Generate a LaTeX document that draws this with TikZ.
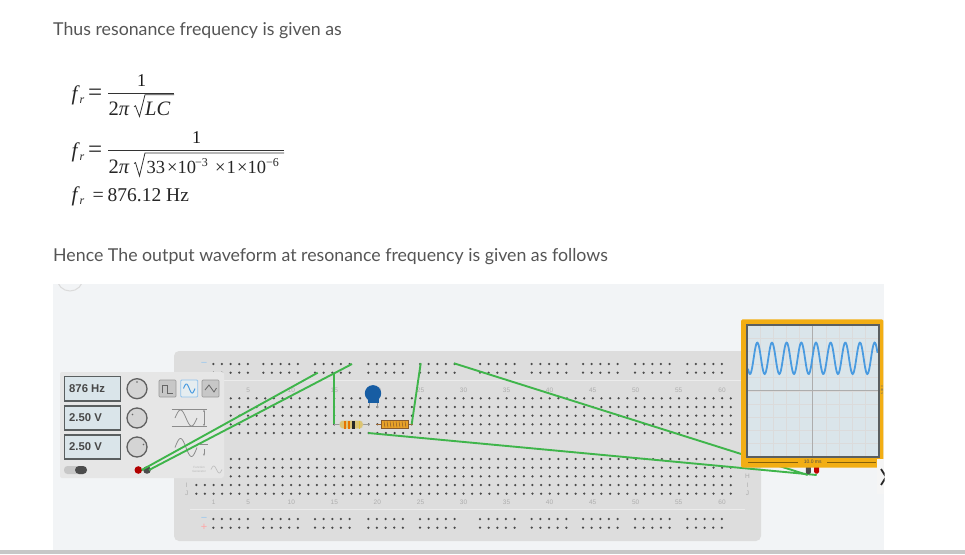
\documentclass[tikz,border=0pt]{standalone}
\usepackage{fontspec}
\setmainfont{Lato}
\newfontfamily\eqfont{Liberation Serif}
\newfontfamily\uifont{Liberation Sans}
\usetikzlibrary{arrows.meta}
\definecolor{pagegray}{HTML}{F2F4F6}
\definecolor{boardgray}{HTML}{DDDDDD}
\definecolor{panelgray}{HTML}{E6E6E6}
\definecolor{holecol}{HTML}{4A4A4A}
\definecolor{wirecol}{HTML}{3FB54B}
\definecolor{screencol}{HTML}{DAE5EA}
\definecolor{dispedge}{HTML}{5A5F60}
\definecolor{scopeor}{HTML}{F2AE14}
\definecolor{sinecol}{HTML}{4A9BE0}
\definecolor{capblue}{HTML}{175DA3}
\definecolor{bodytext}{HTML}{555555}
\tikzset{
  x=1pt,y=-1pt,
  prose/.style={anchor=base west,inner sep=0pt,text=bodytext,font=\fontsize{17.75}{20}\selectfont},
  eq/.style={anchor=base west,inner sep=0pt,text=black!85,font=\eqfont\fontsize{20.5}{22}\selectfont},
  eqn/.style={anchor=base west,inner sep=0pt,text=black!85,font=\eqfont\fontsize{18.5}{22}\selectfont},
  eqs/.style={anchor=base west,inner sep=0pt,text=black!85,font=\eqfont\fontsize{12}{13}\selectfont},
  eqc/.style={anchor=base,inner sep=0pt,text=black!90,font=\eqfont\fontsize{18}{20}\selectfont},
  eqline/.style={line width=0.9pt,draw=black!80},
  eqroot/.style={line width=.8pt,draw=black!80,line join=miter},
  wire/.style={line width=1.9pt,draw=wirecol},
  lead/.style={line width=1pt,draw=black!40},
  disp/.style={draw=dispedge,line width=1.7pt,fill=screencol},
  disptext/.style={anchor=west,inner sep=0pt,text=black!72,font=\uifont\bfseries\fontsize{11.3}{12}\selectfont},
  knob/.style={draw=black!62,line width=1.3pt,fill=black!17},
  wbtn/.style={draw=black!40,line width=.7pt,fill=black!22,rounded corners=1pt},
  wbtnon/.style={draw=sinecol!60,line width=.8pt,fill=screencol!70,rounded corners=1pt},
  icon/.style={draw=black!45,line width=.8pt},
  collabel/.style={inner sep=0pt,text=black!32,font=\uifont\fontsize{6.5}{7}\selectfont},
  grid1/.style={draw=black!14,line width=.5pt},
  grid2/.style={draw=black!32,line width=.7pt},
}
\newcommand{\holegroup}[2]{\foreach \i in {0,...,4}{\fill[holecol] ({#1+8.65*\i},#2) circle (1.25);}}
% #1 baseline, #2 x of =, #3 size of =
\newcommand{\fr}[3]{\node[anchor=base west,inner sep=0pt,text=black!85,font=\eqfont\itshape\fontsize{21}{22}\selectfont] at (71.5,#1) {f};\node[anchor=base west,inner sep=0pt,text=black!85,font=\eqfont\itshape\fontsize{12}{13}\selectfont] at (79.5,#1+3) {r};\node[anchor=base west,inner sep=0pt,text=black!85,font=\eqfont\fontsize{#3}{22}\selectfont] at (#2,#1) {=};}
\begin{document}
\begin{tikzpicture}
\useasboundingbox (0,0) rectangle (965,554);
\fill[white] (0,0) rectangle (965,554);
% prose
\node[prose] (t1) at (53,35) {Thus resonance frequency is given as};
\node[prose] (t2) at (53,261) {Hence The output waveform at resonance frequency is given as follows};
% equations
\fr{100}{88}{25}
\draw[eqline] (108,93.3) -- (174,93.3);
\node[eqc] (one1) at (141.7,86.5) {1};
\node[eq] (d1) at (108.5,115) {2\textit{π}};
\draw[eqroot] (134,106.7) -- (135.5,105.8) -- (139.5,116.5) -- (145,94.8) -- (174,94.8);
\node[eq] (d1b) at (145,115) {\itshape LC};
\fr{157}{88}{25}
\draw[eqline] (108,150.7) -- (284,150.7);
\node[eqc] (one2) at (196.7,143.5) {1};
\node[eq] (d2) at (108.5,173) {2\textit{π}};
\draw[eqroot] (134,163.5) -- (135.5,162.6) -- (139.5,176) -- (145,153) -- (284,153);
\node[eqn] (n33) at (146.5,173) {33};
\node[eqn] (x1) at (166.8,173) {×};
\node[eqn] (n10a) at (177.5,173) {10};
\node[eqs] (e1) at (195,166) {−3};
\node[eqn] (x2) at (215,173) {×};
\node[eqn] (n1) at (226.5,173) {1};
\node[eqn] (x3) at (236.8,173) {×};
\node[eqn] (n10b) at (247.5,173) {10};
\node[eqs] (e2) at (266,166) {−6};
\fr{201.7}{92.5}{20}
\node[anchor=base west,inner sep=0pt,text=black!85,font=\eqfont\fontsize{19.5}{22}\selectfont] (val) at (107.5,201.7) {876.12 Hz};
% simulator background
\fill[pagegray] (53,284) rectangle (884.3,550);
\begin{scope}
\clip (53,284) rectangle (100,300);
\draw[black!14,line width=1pt] (70,278) circle (13);
\end{scope}
\fill[black!22] (0,550) rectangle (965,554);
% breadboard
\fill[boardgray,rounded corners=5pt] (174,351) rectangle (761,541);
\draw[black!8,line width=.6pt] (190,380.7) -- (745,380.7);
\draw[black!8,line width=.6pt] (190,509) -- (745,509);
\foreach \g in {213.3,263.3,315,368.3,420,480,531.7,583,635,687.3}{
  \holegroup{\g}{364}\holegroup{\g}{372.7}\holegroup{\g}{519}\holegroup{\g}{527.7}
}
\foreach \r in {398.3,407,415.7,424.3,433,459,467.7,476.3,485,493.7}{
  \foreach \c in {0,...,62}{\fill[holecol] ({196.3+8.62*\c},\r) circle (1.25);}
}
\foreach \n/\xx in {1/213.6,5/248.3,10/291.3,15/334.3,20/377.3,25/420.5,30/463.5,35/506.5,40/549.5,45/592.7,50/635.7,55/678.7,60/722}{
  \node[collabel] (ct\n) at (\xx,390.5) {\n};
  \node[collabel] (cb\n) at (\xx,502.5) {\n};
}
\foreach \n/\yy in {H/476.3,I/485,J/493.7}{
  \node[collabel] (ll\n) at (186.7,\yy) {\n};
  \node[collabel] (lr\n) at (747.5,\yy) {\n};
}
\node[inner sep=0pt,text=sinecol!55,font=\uifont\fontsize{11}{12}\selectfont] (minus1) at (204,364) {−};
\node[inner sep=0pt,text=sinecol!55,font=\uifont\fontsize{11}{12}\selectfont] (minus2) at (204,519) {−};
\node[inner sep=0pt,text=red!35,font=\uifont\fontsize{11}{12}\selectfont] (plus2) at (204,527.7) {+};
% components on board
\draw[lead] (334,424.3) -- (370,424.3);
\fill[draw=black!15,fill=orange!45!yellow!75!black!55!white,rounded corners=3pt] (339.5,420.5) rectangle (363,428.5);
\fill[orange!90!black] (343.5,420.5) rectangle (345.5,428.5);
\fill[orange!90!black] (347.5,420.5) rectangle (349.5,428.5);
\fill[black!85] (352,420.5) rectangle (354.5,428.5);
\fill[yellow!50!brown] (359,420.5) rectangle (360,428.5);
\draw[black!40,line width=1pt] (369,400) -- (369,408);
\draw[black!40,line width=1pt] (377.3,400) -- (377.3,408);
\fill[capblue] (373,393.3) circle (8.2);
\fill[capblue] (367.5,398) rectangle (378.5,403) ;
\draw[line width=1pt,draw=brown!80!black] (376,424.3) -- (412.7,424.3);
\fill[draw=brown!70!black,fill=yellow!30!orange!70!brown,line width=.6pt] (381.7,420.5) rectangle (408.3,428.2);
\foreach \a in {0,...,7}{\draw[brown!70!black,line width=.5pt] ({384+\a*3},421.5) -- ({385+\a*3},427.2);}
% function generator panel
\fill[panelgray,rounded corners=2pt] (60,372) rectangle (224,478);
\draw[disp] (64.5,376.5) rectangle (120.5,400.7);
\node[disptext] (freq) at (69,388.2) {876 Hz};
\draw[disp] (64.5,406) rectangle (120.5,430);
\node[disptext] (amp) at (69,417.8) {2.50 V};
\draw[disp] (64.5,435) rectangle (120.5,459);
\node[disptext] (off) at (69,446.8) {2.50 V};
\draw[knob] (137,388.7) circle (10);
\draw[knob] (137,418) circle (10);
\draw[knob] (137,447) circle (10);
\fill[black!60] (137,382) circle (.8) (132.5,414.5) circle (.8) (143.5,444.5) circle (.8);
\draw[wbtn] (159,380) rectangle (176,397);
\draw[black!60,line width=.8pt] (162.5,393) -- (162.5,385) -- (167.5,385) -- (167.5,393) -- (172.5,393);
\draw[wbtnon] (180.7,380) rectangle (197.7,397);
\draw[sinecol,line width=1pt,domain=183.5:195,samples=30] plot (\x,{388.5-4.5*sin(360*(\x-183.5)/11.5)});
\draw[wbtn] (202,380) rectangle (219,397);
\draw[black!60,line width=.8pt] (205,390) -- (209,385) -- (214,392) -- (216.5,388);
\draw[icon] (171.7,409) -- (206.7,409) (171.7,426.7) -- (206.7,426.7);
\draw[icon,domain=175:197,samples=30] plot (\x,{418-8*sin(360*(\x-175)/22)});
\draw[icon,-{Stealth[length=2.5pt]}] (204,417.5) -- (204,409.5);
\draw[icon,-{Stealth[length=2.5pt]}] (204,418) -- (204,426.3);
\draw[icon,domain=175:197,samples=30] plot (\x,{447.5-9*sin(360*(\x-175)/22)});
\draw[icon,-{Stealth[length=2.5pt]}] (204,449) -- (204,456);
\draw[icon] (200,444) -- (208,444);
\fill[black!22,rounded corners=3.5pt] (64,466) rectangle (87,474);
\fill[black!70,rounded corners=4pt] (75,466) rectangle (87,474);
\node[inner sep=0pt,text=black!28,align=center,font=\uifont\fontsize{3}{3.3}\selectfont] (brand) at (199,469.5) {Function\\Generator};
\draw[black!25,line width=.7pt,domain=211:222,samples=20] plot (\x,{469.5-3.5*sin(360*(\x-211)/11)});
% terminals
\fill[red!70!black] (138.3,470) circle (3.8);
\fill[black!70] (147,470) circle (3.8);
% wire end points
\coordinate (gr) at (141.7,470);
\coordinate (gb) at (149,470);
\coordinate (railA) at (317.7,372.7);
\coordinate (railB) at (352,364);
\coordinate (railC) at (334,373.3);
\coordinate (resL) at (334,424.3);
\coordinate (indR) at (411.7,424.3);
\coordinate (railD) at (420.7,363.3);
\coordinate (resR) at (368.3,433);
\coordinate (scopeR) at (816.7,475);
\coordinate (railE) at (454,363.3);
\coordinate (scopeB) at (807.7,475);
% wires
\draw[wire] (gr) -- (railA);
\draw[wire] (gb) -- (railB);
\draw[wire] (railC) -- (resL);
\draw[wire] (indR) -- (railD);
\draw[wire] (resR) -- (scopeR);
\draw[wire] (railE) -- (scopeB);
% oscilloscope
\fill[black!70,rounded corners=1.5pt] (805.8,466) rectangle (810.8,474);
\fill[red!75!black,rounded corners=1.5pt] (814.2,466) rectangle (819.2,473.5);
\fill[scopeor,rounded corners=1.5pt] (741,319.3) rectangle (883.3,467.7);
\fill[screencol] (746.7,325) rectangle (878.7,456.7);
\foreach \k in {1,...,9}{
  \draw[grid1] ({746.7+13.2*\k},325) -- ({746.7+13.2*\k},456.7);
  \draw[grid1] (746.7,{325+13.17*\k}) -- (878.7,{325+13.17*\k});
}
\draw[grid2] (812.7,325) -- (812.7,456.7);
\draw[grid2] (746.7,390.8) -- (878.7,390.8);
\draw[sinecol,line width=1.8pt,domain=748:877.5,samples=220] plot (\x,{358.3-15.7*cos(24.54*(\x-757.3))});
\draw[draw=dispedge,line width=1.7pt] (746.7,325) rectangle (878.7,456.7);
\draw[black!45!scopeor,line width=.5pt] (748,462) -- (798,462) (827,462) -- (876,462);
\node[inner sep=0pt,text=black!70,font=\uifont\fontsize{5}{5.5}\selectfont] (tb) at (812.7,462) {10.0 ms};
\node[inner sep=0pt,rotate=90,text=black!60,font=\uifont\fontsize{3}{3.5}\selectfont] (vd) at (882,390) {5.00 V};
% side tab
\fill[black!4] (877,459) rectangle (884.3,494);
\begin{scope}
\clip (870,459) rectangle (884.6,494);
\draw[black!85,line width=1.8pt] (881,469) -- (886,477) -- (881,485);
\end{scope}
\end{tikzpicture}
\end{document}
